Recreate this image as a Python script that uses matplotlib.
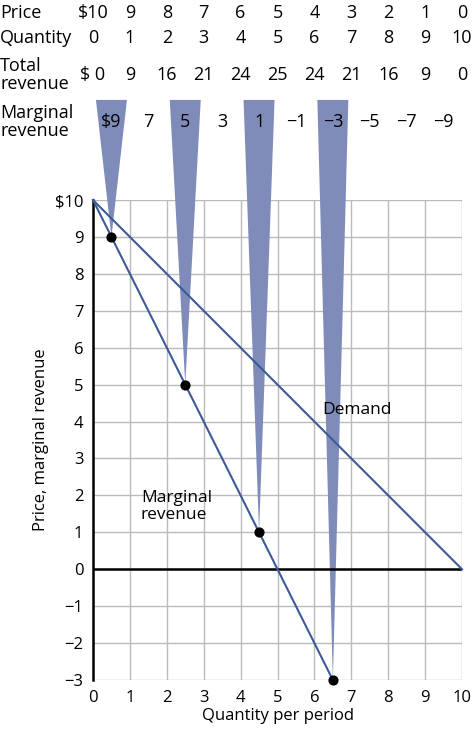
import matplotlib
matplotlib.use("Agg")
import matplotlib.pyplot as plt
from matplotlib.transforms import blended_transform_factory
from matplotlib.patches import Polygon

price = [10, 9, 8, 7, 6, 5, 4, 3, 2, 1, 0]
quantity = [0, 1, 2, 3, 4, 5, 6, 7, 8, 9, 10]
total_rev = [0, 9, 16, 21, 24, 25, 24, 21, 16, 9, 0]
marg_rev = [9, 7, 5, 3, 1, -1, -3, -5, -7, -9]
mr_q = [0.5, 1.5, 2.5, 3.5, 4.5, 5.5, 6.5, 7.5, 8.5, 9.5]
pts_q = [0.5, 2.5, 4.5, 6.5]
pts_mr = [9, 5, 1, -3]

plt.rcParams['font.family'] = ['Open Sans', 'DejaVu Sans']
fs = 12
tfs = 13
lc = '#3d5a98'
wc = '#7f8cba'

fig = plt.figure(figsize=(4.74, 7.41), dpi=100)
W, H = 474, 741
ax = fig.add_axes([93/W, 1-680/H, 369/W, 480/H])
ax.set_xlim(0, 10)
ax.set_ylim(-3, 10)
ax.set_xticks(range(0, 11))
ax.set_yticks(range(-3, 11))
ax.set_yticklabels(['$10' if v == 10 else ('\u2212%d' % -v if v < 0 else str(v)) for v in range(-3, 11)], fontsize=fs)
ax.set_xticklabels([str(v) for v in range(0, 11)], fontsize=fs)
ax.tick_params(length=0, pad=7)
ax.grid(True, color='#bbbbbb', lw=1)
for s in ['top', 'right', 'bottom']:
    ax.spines[s].set_visible(False)
ax.spines['left'].set_linewidth(1.8)
ax.axhline(0, color='black', lw=1.8, zorder=3)
ax.set_xlabel('Quantity per period', fontsize=fs, labelpad=2)
ax.set_ylabel('Price, marginal revenue', fontsize=fs)

# wedges
top = 10 + (200 - 100) / 36.9
for q, m in zip(pts_q, pts_mr):
    poly = Polygon([(q - 0.42, top), (q + 0.42, top), (q, m)], closed=True,
                   color=wc, clip_on=False, zorder=2, lw=0)
    ax.add_patch(poly)

ax.plot(quantity, price, color=lc, lw=1.5, zorder=4, clip_on=False)
ax.plot([0, 6.5], [10, -3], color=lc, lw=1.5, zorder=4, clip_on=False)
ax.scatter(pts_q, pts_mr, color='black', s=40, zorder=5, clip_on=False)
ax.text(6.2, 4.3, 'Demand', fontsize=fs+0.5, va='center', zorder=6)
ax.text(1.3, 1.7, 'Marginal\nrevenue', fontsize=fs+0.5, va='center', linespacing=1.1, zorder=6)

tr = blended_transform_factory(ax.transData, fig.transFigure)
def fy(py):
    return 1 - py / H

fig.text(0, fy(13), 'Price', fontsize=tfs, va='center')
fig.text(0, fy(38), 'Quantity', fontsize=tfs, va='center')
fig.text(0, fy(75), 'Total\nrevenue', fontsize=tfs, va='center', linespacing=1.0)
fig.text(0, fy(122), 'Marginal\nrevenue', fontsize=tfs, va='center', linespacing=1.0)
for i, (p, q, t) in enumerate(zip(price, quantity, total_rev)):
    ax.text(i, fy(13), '$10' if i == 0 else str(p), transform=tr, fontsize=tfs, ha='center', va='center')
    ax.text(i, fy(38), str(q), transform=tr, fontsize=tfs, ha='center', va='center')
    ax.text(i, fy(75), '$ 0' if i == 0 else str(t), transform=tr, fontsize=tfs, ha='center', va='center')
for q, m in zip(mr_q, marg_rev):
    lab = '$9' if m == 9 else ('\u2212%d' % -m if m < 0 else str(m))
    ax.text(q, fy(122), lab, transform=tr, fontsize=tfs, ha='center', va='center', zorder=6)

fig.savefig('out.png', dpi=100, facecolor='white')
